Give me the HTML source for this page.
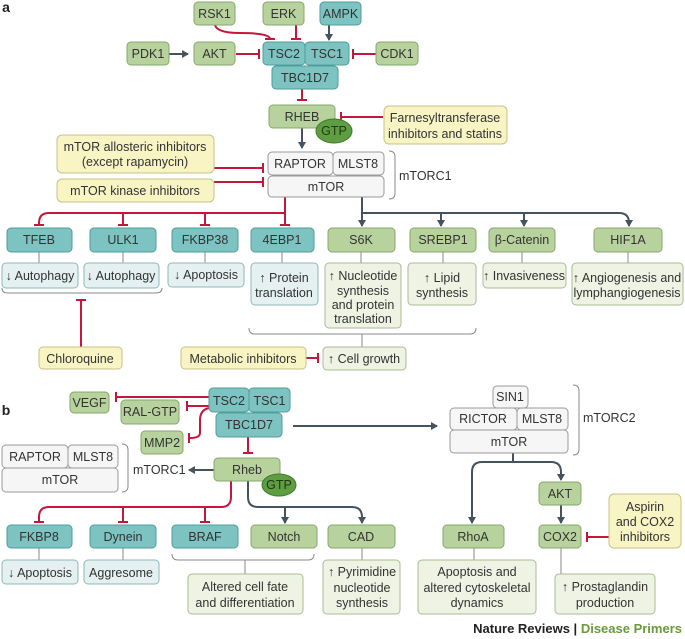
<!DOCTYPE html>
<html><head><meta charset="utf-8"><style>
html,body{margin:0;padding:0;background:#fff;width:685px;height:639px;overflow:hidden}
svg text{font-family:"Liberation Sans Narrow","Liberation Sans",sans-serif;font-size:12.5px;fill:#333;text-anchor:middle}
.g{fill:#b7d29d;stroke:#86a86c;stroke-width:1}
.t{fill:#7cc3c1;stroke:#4f9c9a;stroke-width:1}
.y{fill:#f8f4c4;stroke:#c9c284;stroke-width:1}
.w{fill:#f6f6f6;stroke:#9a9a9a;stroke-width:1}
.rt{fill:#e4f1f0;stroke:#8fb8b6;stroke-width:1}
.rg{fill:#eef3e4;stroke:#a9bb95;stroke-width:1}
.r{stroke:#c4173b;stroke-width:2;fill:none}
.d{stroke:#44535e;stroke-width:2;fill:none}
.l{stroke:#888;stroke-width:1;fill:none}
</style></head><body>
<svg width="685" height="639" viewBox="0 0 685 639" xmlns="http://www.w3.org/2000/svg">
<defs><marker id="a" markerWidth="8" markerHeight="8" refX="6" refY="4" orient="auto" markerUnits="userSpaceOnUse"><path d="M0,0 L7,4 L0,8 z" fill="#44535e"/></marker></defs>
<text x="6" y="12" style="font-weight:bold;font-size:14px;fill:#222">a</text>
<text x="6" y="415" style="font-weight:bold;font-size:14px;fill:#222">b</text>

<!-- panel a connectors -->
<path class="d" d="M169,54 H188" marker-end="url(#a)"/>
<path class="r" d="M236,54 H259 M259,49 V59"/>
<path class="r" d="M376,54 H353 M353,49 V59"/>
<path class="r" d="M215,25 Q217,33 240,33 Q270,33 270,39 M265,39 H275"/>
<path class="r" d="M296,25 V39 M291,39 H301"/>
<path class="d" d="M329,25 V40" marker-end="url(#a)"/>
<path class="r" d="M302,89 V100 M297,100 H307"/>
<path class="r" d="M383,117 H341 M341,112 V122"/>
<path class="d" d="M302,128 V148" marker-end="url(#a)"/>
<path class="r" d="M214,168 H263 M263,163 V173"/>
<path class="r" d="M214,182 H263 M263,177 V187"/>
<path class="r" d="M285,197 V213 M285,213 H49 Q39,213 39,223 V225 M34,225 H44 M123,213 V225 M118,225 H128 M205,213 V225 M200,225 H210 M285,213 V225 M280,225 H290"/>
<path class="d" d="M362,197 V213 H619 Q629,213 629,223 V226" marker-end="url(#a)"/>
<path class="d" d="M362,213 V226" marker-end="url(#a)"/>
<path class="d" d="M441,213 V226" marker-end="url(#a)"/>
<path class="d" d="M524,213 V226" marker-end="url(#a)"/>
<!-- vertical thin lines to results -->
<path class="l" d="M39,252 V263 M123,252 V263 M205,252 V263 M282,252 V263 M361,252 V263 M443,252 V263 M522,252 V263 M628,252 V263"/>
<path class="l" d="M2,288 Q2,293 8,293 H156 Q162,293 162,288"/>
<path class="r" d="M81,348 V300 M76,300 H86"/>
<path class="l" d="M249,328 Q249,334 255,334 H470 Q476,334 476,328 M362,334 V347"/>
<path class="r" d="M306,358 H318 M318,353 V363"/>

<!-- panel a boxes -->
<rect class="g" x="194" y="2" width="41" height="23" rx="4"/><text x="214.5" y="18">RSK1</text>
<rect class="g" x="263" y="2" width="41" height="23" rx="4"/><text x="283.5" y="18">ERK</text>
<rect class="t" x="320" y="2" width="41" height="23" rx="4"/><text x="340.5" y="18">AMPK</text>
<rect class="g" x="127" y="42" width="42" height="23" rx="4"/><text x="148" y="58">PDK1</text>
<rect class="g" x="194" y="42" width="41" height="23" rx="4"/><text x="214.5" y="58">AKT</text>
<rect class="t" x="263" y="42" width="42" height="23" rx="4"/><text x="284" y="58">TSC2</text>
<rect class="t" x="305" y="42" width="44" height="23" rx="4"/><text x="327" y="58">TSC1</text>
<rect class="g" x="376" y="42" width="42" height="23" rx="4"/><text x="397" y="58">CDK1</text>
<rect class="t" x="272" y="66" width="66" height="23" rx="4"/><text x="305" y="82">TBC1D7</text>
<rect class="g" x="269" y="105" width="66" height="23" rx="4"/><text x="302" y="121">RHEB</text>
<ellipse cx="334" cy="131" rx="18" ry="12" fill="#5f9d42" stroke="#3f7a2a"/><text x="334" y="135" style="fill:#1f3a14">GTP</text>
<rect class="y" x="384" y="106" width="123" height="38" rx="5"/><text x="445" y="122">Farnesyltransferase</text><text x="445" y="138">inhibitors and statins</text>
<rect class="y" x="57" y="135" width="157" height="38" rx="5"/><text x="135" y="151">mTOR allosteric inhibitors</text><text x="135" y="166">(except rapamycin)</text>
<rect class="y" x="57" y="179" width="157" height="23" rx="5"/><text x="135" y="195">mTOR kinase inhibitors</text>
<rect class="w" x="268" y="176" width="116" height="21" rx="4"/><text x="326" y="191">mTOR</text>
<rect class="w" x="268" y="152" width="65" height="23" rx="4"/><text x="300" y="168">RAPTOR</text>
<rect class="w" x="333" y="152" width="51" height="23" rx="4"/><text x="358" y="168">MLST8</text>
<path class="l" d="M389,151 Q395,151 395,157 V193 Q395,199 389,199"/>
<text x="399" y="180" style="text-anchor:start">mTORC1</text>

<rect class="t" x="7" y="228" width="65" height="24" rx="4"/><text x="39" y="244">TFEB</text>
<rect class="t" x="90" y="228" width="66" height="24" rx="4"/><text x="123" y="244">ULK1</text>
<rect class="t" x="172" y="228" width="66" height="24" rx="4"/><text x="205" y="244">FKBP38</text>
<rect class="t" x="251" y="228" width="63" height="24" rx="4"/><text x="282" y="244">4EBP1</text>
<rect class="g" x="328" y="228" width="67" height="24" rx="4"/><text x="361" y="244">S6K</text>
<rect class="g" x="410" y="228" width="66" height="24" rx="4"/><text x="443" y="244">SREBP1</text>
<rect class="g" x="489" y="228" width="66" height="24" rx="4"/><text x="522" y="244">β-Catenin</text>
<rect class="g" x="594" y="228" width="68" height="24" rx="4"/><text x="628" y="244">HIF1A</text>

<rect class="rt" x="2" y="263" width="76" height="25" rx="4"/><text x="40" y="280">↓ Autophagy</text>
<rect class="rt" x="84" y="263" width="75" height="25" rx="4"/><text x="121" y="280">↓ Autophagy</text>
<rect class="rt" x="168" y="263" width="76" height="24" rx="4"/><text x="206" y="279">↓ Apoptosis</text>
<rect class="rt" x="251" y="263" width="67" height="42" rx="4"/><text x="284" y="282">↑ Protein</text><text x="284" y="297">translation</text>
<rect class="rg" x="325" y="263" width="76" height="65" rx="4"/><text x="363" y="280">↑ Nucleotide</text><text x="363" y="295">synthesis</text><text x="363" y="309">and protein</text><text x="363" y="323">translation</text>
<rect class="rg" x="408" y="263" width="68" height="42" rx="4"/><text x="442" y="282">↑ Lipid</text><text x="442" y="297">synthesis</text>
<rect class="rg" x="483" y="263" width="83" height="25" rx="4"/><text x="524" y="280">↑ Invasiveness</text>
<rect class="rg" x="572" y="263" width="111" height="42" rx="4"/><text x="627" y="282">↑ Angiogenesis and</text><text x="627" y="297">lymphangiogenesis</text>
<rect class="y" x="39" y="347" width="83" height="22" rx="4"/><text x="80" y="363">Chloroquine</text>
<rect class="y" x="181" y="347" width="125" height="22" rx="4"/><text x="243" y="363">Metabolic inhibitors</text>
<rect class="rg" x="323" y="347" width="83" height="23" rx="4"/><text x="364" y="363">↑ Cell growth</text>

<!-- panel b connectors -->
<path class="r" d="M209,397 H116 M116,392 V402"/>
<path class="r" d="M209,406 H187 M187,401 V411"/>
<path class="r" d="M209,408 Q200,410 200,420 V433 Q200,438 190,438 M189,433 V443"/>
<path class="r" d="M248,437 V453 M243,453 H253"/>
<path class="d" d="M214,470 H189" marker-end="url(#a)"/>
<path class="d" d="M293,426 H437" marker-end="url(#a)"/>
<path class="r" d="M231,481 V497 Q231,507 221,507 H49 Q39,507 39,517 V522 M34,522 H44 M123,507 V522 M118,522 H128 M205,507 V522 M200,522 H210"/>
<path class="d" d="M248,481 V497 Q248,507 258,507 H352 Q362,507 362,517 V523" marker-end="url(#a)"/>
<path class="d" d="M285,507 V523" marker-end="url(#a)"/>
<path class="d" d="M513,453 V462 M513,462 H482 Q472,462 472,472 V523" marker-end="url(#a)"/>
<path class="d" d="M513,462 H551 Q561,462 561,472 V480" marker-end="url(#a)"/>
<path class="d" d="M561,505 V523" marker-end="url(#a)"/>
<path class="r" d="M609,537 H587 M587,532 V542"/>
<path class="l" d="M39,548 V560 M123,548 V560 M362,548 V560 M474,548 V560 M561,548 V574"/>
<path class="l" d="M172,554 Q172,560 178,560 H308 Q314,560 314,554 M245,560 V574"/>

<!-- panel b boxes -->
<rect class="g" x="70" y="392" width="39" height="21" rx="4"/><text x="89.5" y="407">VEGF</text>
<rect class="t" x="209" y="388" width="40" height="24" rx="4"/><text x="229" y="405">TSC2</text>
<rect class="t" x="249" y="388" width="41" height="24" rx="4"/><text x="269.5" y="405">TSC1</text>
<rect class="t" x="216" y="413" width="66" height="24" rx="4"/><text x="249" y="429">TBC1D7</text>
<rect class="g" x="121" y="400" width="58" height="24" rx="4"/><text x="150" y="416">RAL-GTP</text>
<rect class="g" x="141" y="431" width="42" height="23" rx="4"/><text x="162" y="447">MMP2</text>
<rect class="w" x="2" y="468" width="116" height="24" rx="4"/><text x="60" y="484">mTOR</text>
<rect class="w" x="2" y="445" width="66" height="23" rx="4"/><text x="35" y="461">RAPTOR</text>
<rect class="w" x="68" y="445" width="50" height="23" rx="4"/><text x="93" y="461">MLST8</text>
<path class="l" d="M122,444 Q128,444 128,450 V486 Q128,492 122,492"/>
<text x="133" y="474" style="text-anchor:start">mTORC1</text>
<rect class="g" x="214" y="458" width="66" height="23" rx="4"/><text x="247" y="474">Rheb</text>
<ellipse cx="279" cy="485" rx="17" ry="11" fill="#5f9d42" stroke="#3f7a2a"/><text x="279" y="489" style="fill:#1f3a14">GTP</text>

<rect class="w" x="450" y="430" width="118" height="23" rx="4"/><text x="509" y="446">mTOR</text>
<rect class="w" x="450" y="408" width="67" height="22" rx="4"/><text x="483" y="423">RICTOR</text>
<rect class="w" x="517" y="408" width="51" height="22" rx="4"/><text x="542" y="423">MLST8</text>
<rect class="w" x="493" y="386" width="35" height="22" rx="4"/><text x="510" y="401">SIN1</text>
<path class="l" d="M573,385 Q579,385 579,391 V449 Q579,455 573,455"/>
<text x="583" y="422" style="text-anchor:start">mTORC2</text>

<rect class="t" x="7" y="525" width="65" height="23" rx="4"/><text x="39" y="541">FKBP8</text>
<rect class="t" x="90" y="525" width="66" height="23" rx="4"/><text x="123" y="541">Dynein</text>
<rect class="t" x="172" y="525" width="66" height="23" rx="4"/><text x="205" y="541">BRAF</text>
<rect class="g" x="251" y="525" width="66" height="23" rx="4"/><text x="284" y="541">Notch</text>
<rect class="g" x="328" y="525" width="67" height="23" rx="4"/><text x="361" y="541">CAD</text>
<rect class="g" x="443" y="525" width="61" height="23" rx="4"/><text x="473" y="541">RhoA</text>
<rect class="g" x="539" y="482" width="42" height="23" rx="4"/><text x="560" y="498">AKT</text>
<rect class="g" x="539" y="525" width="42" height="23" rx="4"/><text x="560" y="541">COX2</text>
<rect class="y" x="609" y="494" width="72" height="54" rx="5"/><text x="645" y="511">Aspirin</text><text x="645" y="526">and COX2</text><text x="645" y="541">inhibitors</text>

<rect class="rt" x="2" y="560" width="76" height="24" rx="4"/><text x="40" y="577">↓ Apoptosis</text>
<rect class="rt" x="84" y="560" width="75" height="24" rx="4"/><text x="121" y="577">Aggresome</text>
<rect class="rg" x="188" y="574" width="115" height="40" rx="4"/><text x="245" y="591">Altered cell fate</text><text x="245" y="607">and differentiation</text>
<rect class="rg" x="323" y="560" width="77" height="54" rx="4"/><text x="362" y="576">↑ Pyrimidine</text><text x="362" y="592">nucleotide</text><text x="362" y="607">synthesis</text>
<rect class="rg" x="418" y="560" width="118" height="54" rx="4"/><text x="477" y="576">Apoptosis and</text><text x="477" y="592">altered cytoskeletal</text><text x="477" y="607">dynamics</text>
<rect class="rg" x="555" y="574" width="100" height="40" rx="4"/><text x="605" y="591">↑ Prostaglandin</text><text x="605" y="607">production</text>

<text x="682" y="633" style="text-anchor:end;font-weight:bold;font-size:13px;fill:#222">Nature Reviews | <tspan style="fill:#6a9a3a">Disease Primers</tspan></text>
</svg>
</body></html>
